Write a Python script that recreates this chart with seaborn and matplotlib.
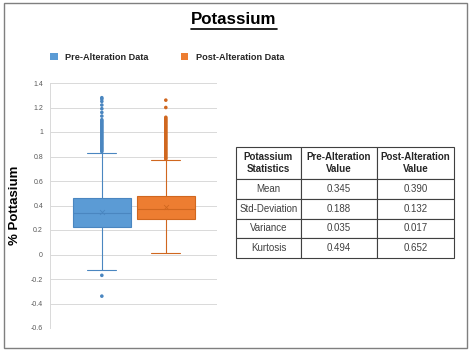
import numpy as np
import pandas as pd
import matplotlib
matplotlib.use("Agg")
import matplotlib.pyplot as plt
from matplotlib.patches import Patch, Rectangle
from matplotlib.lines import Line2D
import seaborn as sns

# --- data ---
groups = ["Pre-Alteration Data", "Post-Alteration Data"]
# lower whisker, Q1, median, Q3, upper whisker
pre_summary = [-0.13, 0.225, 0.335, 0.462, 0.825]
post_summary = [0.015, 0.287, 0.370, 0.480, 0.772]
pre_outliers = [-0.17, -0.34,
                0.84, 0.85, 0.86, 0.87, 0.88, 0.89, 0.90, 0.91, 0.92, 0.93, 0.94,
                0.95, 0.96, 0.97, 0.98, 0.99, 1.00, 1.01, 1.02, 1.03, 1.04, 1.05,
                1.06, 1.07, 1.08, 1.09, 1.10, 1.13, 1.16, 1.19, 1.22, 1.25, 1.27, 1.28]
post_outliers = [0.78, 0.79, 0.80, 0.81, 0.82, 0.83, 0.84, 0.85, 0.86, 0.87, 0.88,
                 0.89, 0.90, 0.91, 0.92, 0.93, 0.94, 0.95, 0.96, 0.97, 0.98, 0.99,
                 1.00, 1.01, 1.02, 1.03, 1.04, 1.05, 1.06, 1.07, 1.08, 1.09, 1.10,
                 1.11, 1.12, 1.20, 1.26]
means = [0.345, 0.390]

stat_names = ["Mean", "Std-Deviation", "Variance", "Kurtosis"]
pre_values = ["0.345", "0.188", "0.035", "0.494"]
post_values = ["0.390", "0.132", "0.017", "0.652"]
table_header = ["Potassium\nStatistics", "Pre-Alteration\nValue", "Post-Alteration\nValue"]

yticks = [-0.6, -0.4, -0.2, 0.0, 0.2, 0.4, 0.6, 0.8, 1.0, 1.2, 1.4]
ytick_labels = ["-0.6", "-0.4", "-0.2", "0", "0.2", "0.4", "0.6", "0.8", "1", "1.2", "1.4"]

fills = ["#5B9BD5", "#ED7D31"]
edges = ["#4A86C0", "#D0671F"]

# --- style ---
sns.set_style("white")
plt.rcParams["font.family"] = ["Liberation Sans", "DejaVu Sans"]

fig = plt.figure(figsize=(4.74, 3.54), dpi=100)
ax = fig.add_axes([50 / 474, 1 - 328 / 354, 167 / 474, 245 / 354])

box_df = pd.DataFrame({
    "group": [groups[0]] * len(pre_summary) + [groups[1]] * len(post_summary),
    "value": pre_summary + post_summary,
})
out_df = pd.DataFrame({
    "group": [groups[0]] * len(pre_outliers) + [groups[1]] * len(post_outliers),
    "value": pre_outliers + post_outliers,
})
mean_df = pd.DataFrame({"group": groups, "value": means})

for g, fc, ec in zip(groups, fills, edges):
    sns.boxplot(data=box_df[box_df["group"] == g], x="group", y="value", order=groups,
                color=fc, linecolor=ec, linewidth=0.8, width=0.9, whis=(0, 100),
                fliersize=0, saturation=1, ax=ax)

sns.stripplot(data=out_df, x="group", y="value", order=groups, hue="group",
              hue_order=groups, palette=edges, jitter=False, size=2.6,
              linewidth=0, legend=False, ax=ax)
sns.stripplot(data=mean_df, x="group", y="value", order=groups, hue="group",
              hue_order=groups, palette=edges, jitter=False, marker="x", size=3.5,
              linewidth=0.6, legend=False, ax=ax)

ax.set_xlim(-0.81, 1.8)
ax.set_ylim(-0.6, 1.4)
ax.set_yticks(yticks)
ax.set_yticklabels(ytick_labels)
ax.set_xticks([])
ax.set_xlabel("")
ax.set_ylabel("")
ax.tick_params(axis="y", length=0, pad=5, labelsize=5, labelcolor="#595959")
ax.yaxis.grid(True, color="#D9D9D9", linewidth=0.7)
ax.set_axisbelow(True)
for side in ["top", "right", "bottom"]:
    ax.spines[side].set_visible(False)
ax.spines["left"].set_color("#D9D9D9")
ax.spines["left"].set_linewidth(0.7)

# y label
fig.text(15 / 474, 1 - 205 / 354, "% Pottasium", rotation=90, ha="center", va="center",
         fontsize=9.5, fontweight="bold", color="#000000")

# legend
handles = [Patch(facecolor=c, edgecolor="none", label=g) for g, c in zip(groups, fills)]
fig.legend(handles=handles, loc="center left", bbox_to_anchor=(50 / 474, 1 - 57 / 354),
           ncol=2, frameon=False, prop={"weight": "bold", "size": 6.6},
           handlelength=0.85, handleheight=0.85, handletextpad=0.8, columnspacing=3.5,
           borderpad=0, borderaxespad=0)

# title with underline
title = fig.text(234 / 474, 1 - 19 / 354, "Potassium", ha="center", va="center",
                 fontsize=12.2, fontweight="bold", color="#000000")
fig.canvas.draw()
bb = title.get_window_extent().transformed(fig.transFigure.inverted())
fig.add_artist(Line2D([bb.x0, bb.x1], [1 - 29 / 354, 1 - 29 / 354],
                      transform=fig.transFigure, color="#000000", linewidth=1.2))

# statistics table
tax = fig.add_axes([236 / 474, 1 - 258 / 354, 218 / 474, 111 / 354])
tax.axis("off")
cells = [[n, a, b] for n, a, b in zip(stat_names, pre_values, post_values)]
tbl = tax.table(cellText=cells, colLabels=table_header, cellLoc="center",
                bbox=[0, 0, 1, 1], colWidths=[65 / 218, 76 / 218, 77 / 218])
tbl.auto_set_font_size(False)
tbl.set_fontsize(7)
for (r, c), cell in tbl.get_celld().items():
    cell.set_edgecolor("#404040")
    cell.set_linewidth(0.8)
    if r == 0:
        cell.set_height(32)
        cell.get_text().set_fontweight("bold")
        cell.get_text().set_color("#262626")
    else:
        cell.set_height(19.75)
        cell.get_text().set_color("#404040")

# outer frame
fig.add_artist(Rectangle((4 / 474, 1 - 348 / 354), 463 / 474, 345 / 354,
                         transform=fig.transFigure, fill=False,
                         edgecolor="#7F7F7F", linewidth=1.0))

fig.savefig("out.png", dpi=100)
